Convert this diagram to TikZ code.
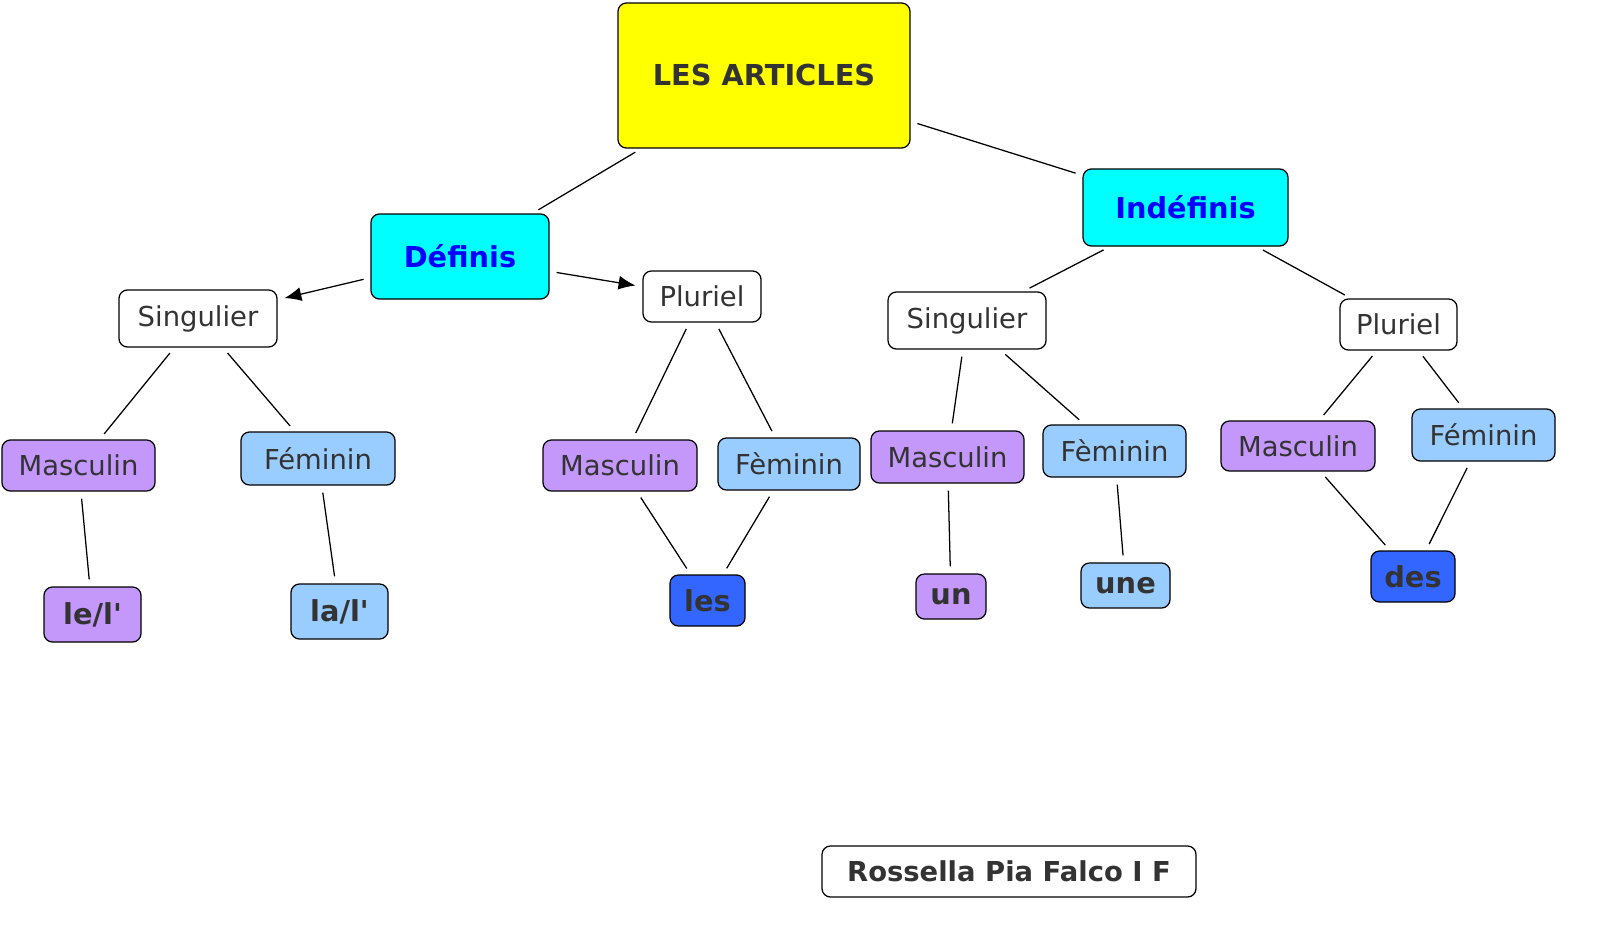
\documentclass[tikz,border=0pt]{standalone}
\usepackage{fontspec}
\setmainfont{DejaVu Sans}
\usetikzlibrary{arrows.meta}
\definecolor{purp}{HTML}{C497FA}
\definecolor{lblue}{HTML}{99CCFF}
\definecolor{dblue}{HTML}{3366FF}
\definecolor{txt}{HTML}{333333}
\definecolor{cy}{HTML}{00FFFF}
\definecolor{yel}{HTML}{FFFF00}
\newcommand\nd[7]{\node[box,#6,minimum width={(#4-#2)*0.025cm},minimum height={(#5-#3)*0.025cm}] (#1) at ({(#2+#4)/2},{(#3+#5)/2}) {#7};}
\tikzset{
 box/.style={draw=black,line width=0.9pt,rounded corners=6pt,inner sep=0pt,text=txt,font=\fontsize{19.5}{22}\selectfont},
 big/.style={font=\fontsize{20.5}{24}\selectfont\bfseries},
 ln/.style={line width=0.9pt,shorten <=5pt,shorten >=5pt},
 ar/.style={ln,-{Latex[length=12pt,width=10pt]}}
}
\begin{document}
\begin{tikzpicture}[x=0.025cm,y=-0.025cm]
\useasboundingbox[fill=white] (0,0) rectangle (1600,927);
\nd{top}{618}{3}{910}{148}{fill=yel,big}{LES ARTICLES}
\nd{def}{371}{214}{549}{299}{fill=cy,big,text=blue}{Définis}
\nd{ind}{1083}{169}{1288}{246}{fill=cy,big,text=blue}{Indéfinis}
\nd{sl}{119}{290}{277}{347}{fill=white}{Singulier}
\nd{pl}{643}{271}{761}{322}{fill=white}{Pluriel}
\nd{sr}{888}{292}{1046}{349}{fill=white}{Singulier}
\nd{pr}{1340}{299}{1457}{350}{fill=white}{Pluriel}
\nd{m1}{2}{440}{155}{491}{fill=purp}{Masculin}
\nd{f1}{241}{432}{395}{485}{fill=lblue}{Féminin}
\nd{m2}{543}{440}{697}{491}{fill=purp}{Masculin}
\nd{f2}{718}{438}{860}{490}{fill=lblue}{Fèminin}
\nd{m3}{871}{431}{1024}{483}{fill=purp}{Masculin}
\nd{f3}{1043}{425}{1186}{477}{fill=lblue}{Fèminin}
\nd{m4}{1221}{421}{1375}{471}{fill=purp}{Masculin}
\nd{f4}{1412}{409}{1555}{461}{fill=lblue}{Féminin}
\nd{a1}{44}{587}{141}{642}{fill=purp,big}{le/l\textquotesingle}
\nd{a2}{291}{584}{388}{639}{fill=lblue,big}{la/l\textquotesingle}
\nd{a3}{670}{575}{745}{626}{fill=dblue,big}{les}
\nd{a4}{916}{574}{986}{619}{fill=purp,big}{un}
\nd{a5}{1081}{563}{1170}{608}{fill=lblue,big}{une}
\nd{a6}{1371}{551}{1455}{602}{fill=dblue,big}{des}
\nd{auth}{822}{846}{1196}{897}{fill=white,font=\fontsize{19.5}{22}\selectfont\bfseries}{Rossella Pia Falco I F}
\draw[ln] (top) -- (def);
\draw[ln] (top) -- (ind);
\draw[ar] (def) -- (sl);
\draw[ar] (def) -- (pl);
\draw[ln] (ind) -- (sr);
\draw[ln] (ind) -- (pr);
\draw[ln] (sl) -- (m1); \draw[ln] (sl) -- (f1);
\draw[ln] (pl) -- (m2); \draw[ln] (pl) -- (f2);
\draw[ln] (sr) -- (m3); \draw[ln] (sr) -- (f3);
\draw[ln] (pr) -- (m4); \draw[ln] (pr) -- (f4);
\draw[ln] (m1) -- (a1); \draw[ln] (f1) -- (a2);
\draw[ln] (m2) -- (a3); \draw[ln] (f2) -- (a3);
\draw[ln] (m3) -- (a4); \draw[ln] (f3) -- (a5);
\draw[ln] (m4) -- (a6); \draw[ln] (f4) -- (a6);
\end{tikzpicture}
\end{document}
